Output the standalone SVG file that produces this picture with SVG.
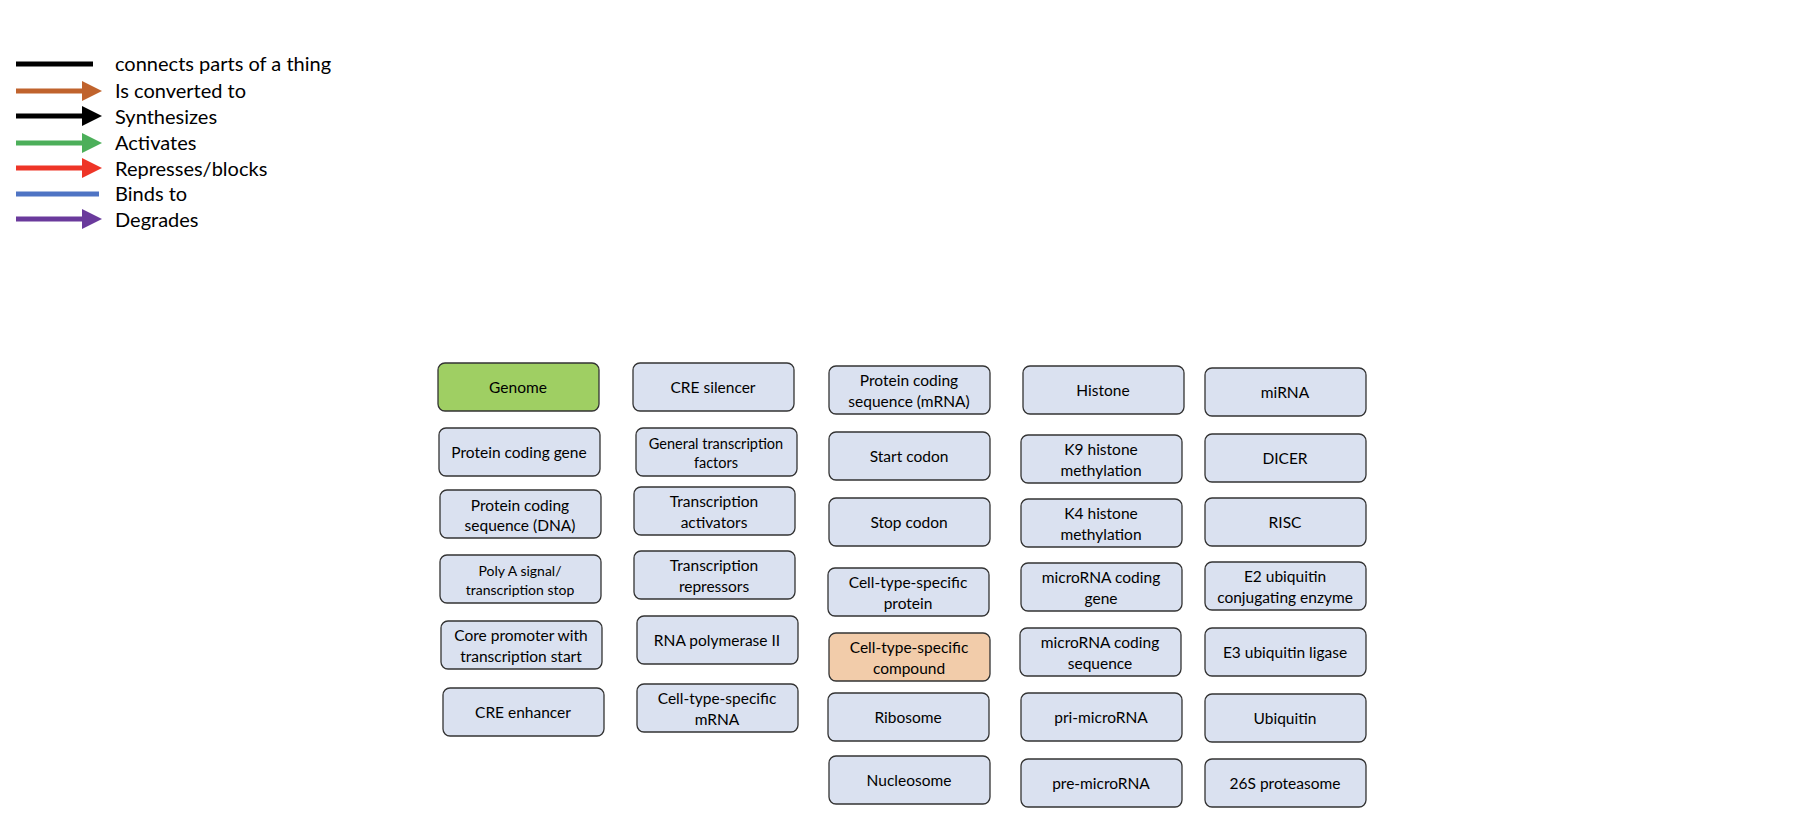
<svg xmlns="http://www.w3.org/2000/svg" width="1820" height="828" viewBox="0 0 1820 828">
<style>
text{font-family:Lato,"Liberation Sans",sans-serif;fill:#000}
.lg{font-size:20px}
.n rect{fill:#DAE1F0;stroke:#333;stroke-width:1.3}
.n text{font-size:15.5px;text-anchor:middle}
.g rect{fill:#9FCF63}
.o rect{fill:#F2CCAA}
.l{stroke-width:5;fill:none}
</style>
<defs>
<marker id="ab" viewBox="0 0 10 10" refX="2" refY="5" markerWidth="4" markerHeight="4" orient="auto" markerUnits="strokeWidth"><path d="M0,0L10,5L0,10z" fill="#C0632D"/></marker>
<marker id="ak" viewBox="0 0 10 10" refX="2" refY="5" markerWidth="4" markerHeight="4" orient="auto" markerUnits="strokeWidth"><path d="M0,0L10,5L0,10z" fill="#000"/></marker>
<marker id="ag" viewBox="0 0 10 10" refX="2" refY="5" markerWidth="4" markerHeight="4" orient="auto" markerUnits="strokeWidth"><path d="M0,0L10,5L0,10z" fill="#4CAF5A"/></marker>
<marker id="ar" viewBox="0 0 10 10" refX="2" refY="5" markerWidth="4" markerHeight="4" orient="auto" markerUnits="strokeWidth"><path d="M0,0L10,5L0,10z" fill="#EE3527"/></marker>
<marker id="ap" viewBox="0 0 10 10" refX="2" refY="5" markerWidth="4" markerHeight="4" orient="auto" markerUnits="strokeWidth"><path d="M0,0L10,5L0,10z" fill="#6A3A9C"/></marker>
</defs>
<g id="connectors">
<line class="l" x1="16" y1="64" x2="93" y2="64" stroke="#000"/>
<line class="l" x1="16" y1="91" x2="86" y2="91" stroke="#C0632D" marker-end="url(#ab)"/>
<line class="l" x1="16" y1="116" x2="86" y2="116" stroke="#000" marker-end="url(#ak)"/>
<line class="l" x1="16" y1="143" x2="86" y2="143" stroke="#4CAF5A" marker-end="url(#ag)"/>
<line class="l" x1="16" y1="168" x2="86" y2="168" stroke="#EE3527" marker-end="url(#ar)"/>
<line class="l" x1="16" y1="194" x2="99" y2="194" stroke="#4F74C4"/>
<line class="l" x1="16" y1="219" x2="86" y2="219" stroke="#6A3A9C" marker-end="url(#ap)"/>
</g>
<g id="legend" class="lg">
<text class="lg" x="115" y="71">connects parts of a thing</text>
<text class="lg" x="115" y="98">Is converted to</text>
<text class="lg" x="115" y="124">Synthesizes</text>
<text class="lg" x="115" y="150">Activates</text>
<text class="lg" x="115" y="176">Represses/blocks</text>
<text class="lg" x="115" y="201">Binds to</text>
<text class="lg" x="115" y="227">Degrades</text>
</g>
<g id="genome" class="n g"><rect x="438" y="363" width="161" height="48" rx="7"/><text x="518" y="393">Genome</text></g>
<g id="pcgene" class="n"><rect x="439" y="428" width="161" height="48" rx="7"/><text x="519" y="458">Protein coding gene</text></g>
<g id="pcdna" class="n"><rect x="440" y="490" width="161" height="48" rx="7"/><text x="520" y="511">Protein coding</text><text x="520" y="531">sequence (DNA)</text></g>
<g id="polya" class="n"><rect x="440" y="555" width="161" height="48" rx="7"/><text x="520" y="576" style="font-size:14px">Poly A signal/</text><text x="520" y="595" style="font-size:14px">transcription stop</text></g>
<g id="corepro" class="n"><rect x="441" y="621" width="161" height="48" rx="7"/><text x="521" y="641">Core promoter with</text><text x="521" y="662">transcription start</text></g>
<g id="creenh" class="n"><rect x="443" y="688" width="161" height="48" rx="7"/><text x="523" y="718">CRE enhancer</text></g>
<g id="cresil" class="n"><rect x="633" y="363" width="161" height="48" rx="7"/><text x="713" y="393">CRE silencer</text></g>
<g id="gtf" class="n"><rect x="636" y="428" width="161" height="48" rx="7"/><text x="716" y="449" style="font-size:14.5px">General transcription</text><text x="716" y="468" style="font-size:14.5px">factors</text></g>
<g id="tact" class="n"><rect x="634" y="487" width="161" height="48" rx="7"/><text x="714" y="507">Transcription</text><text x="714" y="528">activators</text></g>
<g id="trep" class="n"><rect x="634" y="551" width="161" height="48" rx="7"/><text x="714" y="571">Transcription</text><text x="714" y="592">repressors</text></g>
<g id="rnapol" class="n"><rect x="637" y="616" width="161" height="48" rx="7"/><text x="717" y="646">RNA polymerase II</text></g>
<g id="ctmrna" class="n"><rect x="637" y="684" width="161" height="48" rx="7"/><text x="717" y="704">Cell-type-specific</text><text x="717" y="725">mRNA</text></g>
<g id="pcmrna" class="n"><rect x="829" y="366" width="161" height="48" rx="7"/><text x="909" y="386">Protein coding</text><text x="909" y="407">sequence  (mRNA)</text></g>
<g id="start" class="n"><rect x="829" y="432" width="161" height="48" rx="7"/><text x="909" y="462">Start codon</text></g>
<g id="stop" class="n"><rect x="829" y="498" width="161" height="48" rx="7"/><text x="909" y="528">Stop codon</text></g>
<g id="ctprot" class="n"><rect x="828" y="568" width="161" height="48" rx="7"/><text x="908" y="588">Cell-type-specific</text><text x="908" y="609">protein</text></g>
<g id="ctcomp" class="n o"><rect x="829" y="633" width="161" height="48" rx="7"/><text x="909" y="653">Cell-type-specific</text><text x="909" y="674">compound</text></g>
<g id="ribo" class="n"><rect x="828" y="693" width="161" height="48" rx="7"/><text x="908" y="723">Ribosome</text></g>
<g id="nucleo" class="n"><rect x="829" y="756" width="161" height="48" rx="7"/><text x="909" y="786">Nucleosome</text></g>
<g id="histone" class="n"><rect x="1023" y="366" width="161" height="48" rx="7"/><text x="1103" y="396">Histone</text></g>
<g id="k9" class="n"><rect x="1021" y="435" width="161" height="48" rx="7"/><text x="1101" y="455">K9 histone</text><text x="1101" y="476">methylation</text></g>
<g id="k4" class="n"><rect x="1021" y="499" width="161" height="48" rx="7"/><text x="1101" y="519">K4 histone</text><text x="1101" y="540">methylation</text></g>
<g id="migene" class="n"><rect x="1021" y="563" width="161" height="48" rx="7"/><text x="1101" y="583">microRNA coding</text><text x="1101" y="604">gene</text></g>
<g id="miseq" class="n"><rect x="1020" y="628" width="161" height="48" rx="7"/><text x="1100" y="648">microRNA coding</text><text x="1100" y="669">sequence</text></g>
<g id="pri" class="n"><rect x="1021" y="693" width="161" height="48" rx="7"/><text x="1101" y="723">pri-microRNA</text></g>
<g id="pre" class="n"><rect x="1021" y="759" width="161" height="48" rx="7"/><text x="1101" y="789">pre-microRNA</text></g>
<g id="mirna" class="n"><rect x="1205" y="368" width="161" height="48" rx="7"/><text x="1285" y="398">miRNA</text></g>
<g id="dicer" class="n"><rect x="1205" y="434" width="161" height="48" rx="7"/><text x="1285" y="464">DICER</text></g>
<g id="risc" class="n"><rect x="1205" y="498" width="161" height="48" rx="7"/><text x="1285" y="528">RISC</text></g>
<g id="e2" class="n"><rect x="1205" y="562" width="161" height="48" rx="7"/><text x="1285" y="582">E2 ubiquitin</text><text x="1285" y="603">conjugating enzyme</text></g>
<g id="e3" class="n"><rect x="1205" y="628" width="161" height="48" rx="7"/><text x="1285" y="658">E3 ubiquitin ligase</text></g>
<g id="ubi" class="n"><rect x="1205" y="694" width="161" height="48" rx="7"/><text x="1285" y="724">Ubiquitin</text></g>
<g id="prot26" class="n"><rect x="1205" y="759" width="161" height="48" rx="7"/><text x="1285" y="789">26S proteasome</text></g>
</svg>
